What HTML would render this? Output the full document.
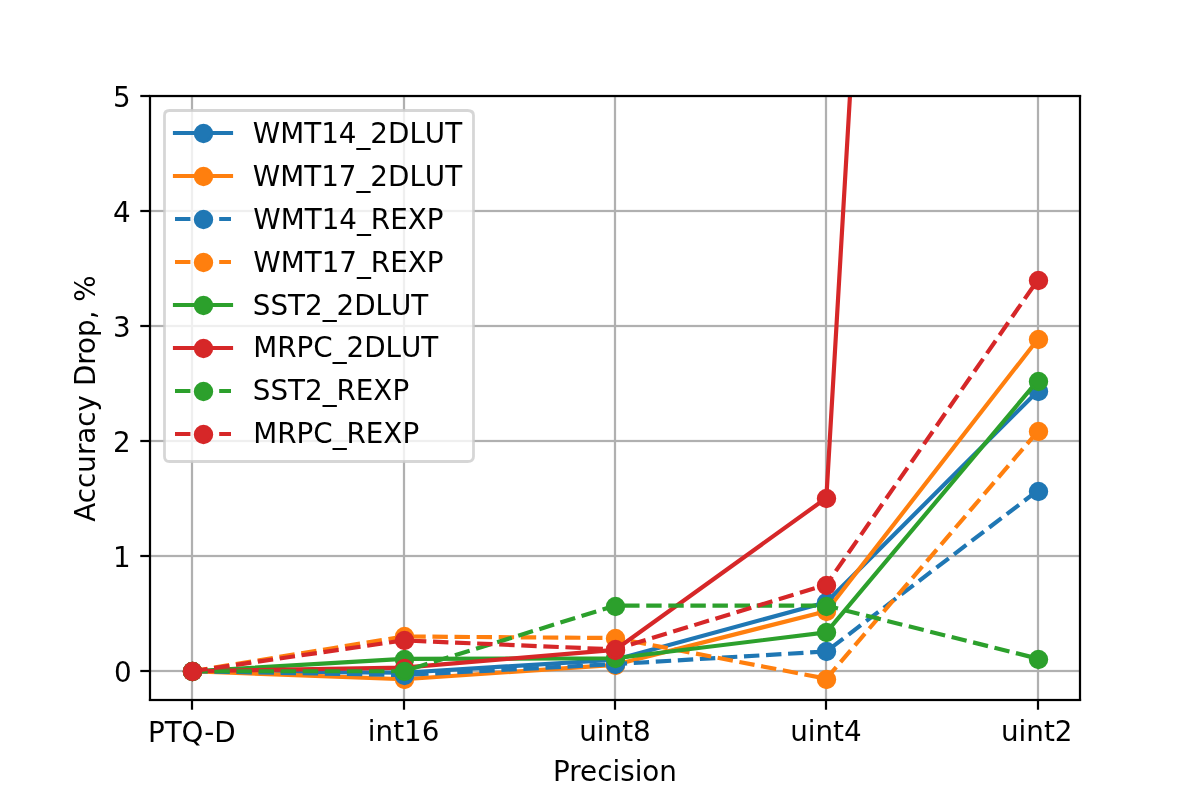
<!DOCTYPE html>
<html><head><meta charset="utf-8"><title>Accuracy Drop vs Precision</title>
<style>html,body{margin:0;padding:0;background:#fff;width:1200px;height:800px;overflow:hidden}svg{display:block}text{fill:#000}</style>
</head><body>
<svg width="1200" height="800" viewBox="0 0 1200 800" font-family="'DejaVu Sans', sans-serif">
<defs><clipPath id="c0"><rect x="150" y="96" width="930" height="604"/></clipPath></defs>
<path d="M0 800L1200 800L1200 0L0 0Z" fill="#ffffff"/>
<path d="M150 700L1080 700L1080 96L150 96Z" fill="#ffffff"/>
<path d="M192 700L192 96" fill="none" stroke="#b0b0b0" stroke-width="2.22" stroke-linecap="square" stroke-linejoin="round" clip-path="url(#c0)"/>
<path d="M192 700L192 709.72" fill="none" stroke="#000000" stroke-width="2.22" stroke-linejoin="round"/>
<text x="191.77" y="741.94" font-size="27.78" text-anchor="middle">PTQ-D</text>
<path d="M404 700L404 96" fill="none" stroke="#b0b0b0" stroke-width="2.22" stroke-linecap="square" stroke-linejoin="round" clip-path="url(#c0)"/>
<path d="M404 700L404 709.72" fill="none" stroke="#000000" stroke-width="2.22" stroke-linejoin="round"/>
<text x="403.64" y="740.94" font-size="27.78" text-anchor="middle">int16</text>
<path d="M615 700L615 96" fill="none" stroke="#b0b0b0" stroke-width="2.22" stroke-linecap="square" stroke-linejoin="round" clip-path="url(#c0)"/>
<path d="M615 700L615 709.72" fill="none" stroke="#000000" stroke-width="2.22" stroke-linejoin="round"/>
<text x="615" y="740.94" font-size="27.78" text-anchor="middle">uint8</text>
<path d="M826 700L826 96" fill="none" stroke="#b0b0b0" stroke-width="2.22" stroke-linecap="square" stroke-linejoin="round" clip-path="url(#c0)"/>
<path d="M826 700L826 709.72" fill="none" stroke="#000000" stroke-width="2.22" stroke-linejoin="round"/>
<text x="825.86" y="740.94" font-size="27.78" text-anchor="middle">uint4</text>
<path d="M1038 700L1038 96" fill="none" stroke="#b0b0b0" stroke-width="2.22" stroke-linecap="square" stroke-linejoin="round" clip-path="url(#c0)"/>
<path d="M1038 700L1038 709.72" fill="none" stroke="#000000" stroke-width="2.22" stroke-linejoin="round"/>
<text x="1036.73" y="740.94" font-size="27.78" text-anchor="middle">uint2</text>
<text x="615" y="780.56" font-size="27.78" text-anchor="middle">Precision</text>
<rect x="148.89" y="669.89" width="932.22" height="2.22" fill="#b0b0b0" clip-path="url(#c0)"/>
<path d="M150 671L140.28 671" fill="none" stroke="#000000" stroke-width="2.22" stroke-linejoin="round"/>
<text x="131.56" y="681.74" font-size="27.78" text-anchor="end">0</text>
<rect x="148.89" y="554.89" width="932.22" height="2.22" fill="#b0b0b0" clip-path="url(#c0)"/>
<path d="M150 556L140.28 556" fill="none" stroke="#000000" stroke-width="2.22" stroke-linejoin="round"/>
<text x="130.56" y="566.69" font-size="27.78" text-anchor="end">1</text>
<rect x="148.89" y="439.89" width="932.22" height="2.22" fill="#b0b0b0" clip-path="url(#c0)"/>
<path d="M150 441L140.28 441" fill="none" stroke="#000000" stroke-width="2.22" stroke-linejoin="round"/>
<text x="130.56" y="451.64" font-size="27.78" text-anchor="end">2</text>
<rect x="148.89" y="324.89" width="932.22" height="2.22" fill="#b0b0b0" clip-path="url(#c0)"/>
<path d="M150 326L140.28 326" fill="none" stroke="#000000" stroke-width="2.22" stroke-linejoin="round"/>
<text x="130.56" y="336.6" font-size="27.78" text-anchor="end">3</text>
<rect x="148.89" y="209.89" width="932.22" height="2.22" fill="#b0b0b0" clip-path="url(#c0)"/>
<path d="M150 211L140.28 211" fill="none" stroke="#000000" stroke-width="2.22" stroke-linejoin="round"/>
<text x="130.56" y="221.55" font-size="27.78" text-anchor="end">4</text>
<rect x="148.89" y="94.89" width="932.22" height="2.22" fill="#b0b0b0" clip-path="url(#c0)"/>
<path d="M150 96L140.28 96" fill="none" stroke="#000000" stroke-width="2.22" stroke-linejoin="round"/>
<text x="130.56" y="106.5" font-size="27.78" text-anchor="end">5</text>
<text x="94.69" y="398.5" font-size="27.78" text-anchor="middle" transform="rotate(-90 94.69 398.5)">Accuracy Drop, %</text>
<path d="M192.27 671.24L403.64 672.73L615 659.73L826.36 602.21L1037.73 391.21" fill="none" stroke="#1f77b4" stroke-width="4.17" stroke-linecap="square" stroke-linejoin="round" clip-path="url(#c0)"/>
<circle cx="192.5" cy="671.5" r="8.33" fill="#1f77b4" stroke="#1f77b4" stroke-width="2.78" clip-path="url(#c0)"/>
<circle cx="404.5" cy="673.5" r="8.33" fill="#1f77b4" stroke="#1f77b4" stroke-width="2.78" clip-path="url(#c0)"/>
<circle cx="615.5" cy="660.5" r="8.33" fill="#1f77b4" stroke="#1f77b4" stroke-width="2.78" clip-path="url(#c0)"/>
<circle cx="826.5" cy="602.5" r="8.33" fill="#1f77b4" stroke="#1f77b4" stroke-width="2.78" clip-path="url(#c0)"/>
<circle cx="1038.5" cy="391.5" r="8.33" fill="#1f77b4" stroke="#1f77b4" stroke-width="2.78" clip-path="url(#c0)"/>
<path d="M192.27 671.24L403.64 679.29L615 664.8L826.36 611.18L1037.73 339.33" fill="none" stroke="#ff7f0e" stroke-width="4.17" stroke-linecap="square" stroke-linejoin="round" clip-path="url(#c0)"/>
<circle cx="192.5" cy="671.5" r="8.33" fill="#ff7f0e" stroke="#ff7f0e" stroke-width="2.78" clip-path="url(#c0)"/>
<circle cx="404.5" cy="679.5" r="8.33" fill="#ff7f0e" stroke="#ff7f0e" stroke-width="2.78" clip-path="url(#c0)"/>
<circle cx="615.5" cy="665.5" r="8.33" fill="#ff7f0e" stroke="#ff7f0e" stroke-width="2.78" clip-path="url(#c0)"/>
<circle cx="826.5" cy="611.5" r="8.33" fill="#ff7f0e" stroke="#ff7f0e" stroke-width="2.78" clip-path="url(#c0)"/>
<circle cx="1038.5" cy="339.5" r="8.33" fill="#ff7f0e" stroke="#ff7f0e" stroke-width="2.78" clip-path="url(#c0)"/>
<path d="M192.27 671.24L403.64 675.03L615 664.11L826.36 651.45L1037.73 490.61" fill="none" stroke="#1f77b4" stroke-width="4.17" stroke-dasharray="15.42,6.67" stroke-linejoin="round" clip-path="url(#c0)"/>
<circle cx="192.5" cy="671.5" r="8.33" fill="#1f77b4" stroke="#1f77b4" stroke-width="2.78" clip-path="url(#c0)"/>
<circle cx="404.5" cy="675.5" r="8.33" fill="#1f77b4" stroke="#1f77b4" stroke-width="2.78" clip-path="url(#c0)"/>
<circle cx="615.5" cy="664.5" r="8.33" fill="#1f77b4" stroke="#1f77b4" stroke-width="2.78" clip-path="url(#c0)"/>
<circle cx="826.5" cy="651.5" r="8.33" fill="#1f77b4" stroke="#1f77b4" stroke-width="2.78" clip-path="url(#c0)"/>
<circle cx="1038.5" cy="491.5" r="8.33" fill="#1f77b4" stroke="#1f77b4" stroke-width="2.78" clip-path="url(#c0)"/>
<path d="M192.27 671.24L403.64 636.49L615 637.99L826.36 678.72L1037.73 431.48" fill="none" stroke="#ff7f0e" stroke-width="4.17" stroke-dasharray="15.42,6.67" stroke-linejoin="round" clip-path="url(#c0)"/>
<circle cx="192.5" cy="671.5" r="8.33" fill="#ff7f0e" stroke="#ff7f0e" stroke-width="2.78" clip-path="url(#c0)"/>
<circle cx="404.5" cy="636.5" r="8.33" fill="#ff7f0e" stroke="#ff7f0e" stroke-width="2.78" clip-path="url(#c0)"/>
<circle cx="615.5" cy="638.5" r="8.33" fill="#ff7f0e" stroke="#ff7f0e" stroke-width="2.78" clip-path="url(#c0)"/>
<circle cx="826.5" cy="679.5" r="8.33" fill="#ff7f0e" stroke="#ff7f0e" stroke-width="2.78" clip-path="url(#c0)"/>
<circle cx="1038.5" cy="431.5" r="8.33" fill="#ff7f0e" stroke="#ff7f0e" stroke-width="2.78" clip-path="url(#c0)"/>
<path d="M192.27 671.24L403.64 658.93L615 658.24L826.36 632.35L1037.73 380.74" fill="none" stroke="#2ca02c" stroke-width="4.17" stroke-linecap="square" stroke-linejoin="round" clip-path="url(#c0)"/>
<circle cx="192.5" cy="671.5" r="8.33" fill="#2ca02c" stroke="#2ca02c" stroke-width="2.78" clip-path="url(#c0)"/>
<circle cx="404.5" cy="659.5" r="8.33" fill="#2ca02c" stroke="#2ca02c" stroke-width="2.78" clip-path="url(#c0)"/>
<circle cx="615.5" cy="658.5" r="8.33" fill="#2ca02c" stroke="#2ca02c" stroke-width="2.78" clip-path="url(#c0)"/>
<circle cx="826.5" cy="632.5" r="8.33" fill="#2ca02c" stroke="#2ca02c" stroke-width="2.78" clip-path="url(#c0)"/>
<circle cx="1038.5" cy="381.5" r="8.33" fill="#2ca02c" stroke="#2ca02c" stroke-width="2.78" clip-path="url(#c0)"/>
<path d="M192.27 671.24L403.64 667.56L615 649.95L826.36 497.98L1037.73 -3102.32" fill="none" stroke="#d62728" stroke-width="4.17" stroke-linecap="square" stroke-linejoin="round" clip-path="url(#c0)"/>
<circle cx="192.5" cy="671.5" r="8.33" fill="#d62728" stroke="#d62728" stroke-width="2.78" clip-path="url(#c0)"/>
<circle cx="404.5" cy="668.5" r="8.33" fill="#d62728" stroke="#d62728" stroke-width="2.78" clip-path="url(#c0)"/>
<circle cx="615.5" cy="650.5" r="8.33" fill="#d62728" stroke="#d62728" stroke-width="2.78" clip-path="url(#c0)"/>
<circle cx="826.5" cy="498.5" r="8.33" fill="#d62728" stroke="#d62728" stroke-width="2.78" clip-path="url(#c0)"/>
<circle cx="1038.5" cy="-3101.5" r="8.33" fill="#d62728" stroke="#d62728" stroke-width="2.78" clip-path="url(#c0)"/>
<path d="M192.27 671.24L403.64 671.24L615 605.66L826.36 605.66L1037.73 658.58" fill="none" stroke="#2ca02c" stroke-width="4.17" stroke-dasharray="15.42,6.67" stroke-linejoin="round" clip-path="url(#c0)"/>
<circle cx="192.5" cy="671.5" r="8.33" fill="#2ca02c" stroke="#2ca02c" stroke-width="2.78" clip-path="url(#c0)"/>
<circle cx="404.5" cy="671.5" r="8.33" fill="#2ca02c" stroke="#2ca02c" stroke-width="2.78" clip-path="url(#c0)"/>
<circle cx="615.5" cy="606.5" r="8.33" fill="#2ca02c" stroke="#2ca02c" stroke-width="2.78" clip-path="url(#c0)"/>
<circle cx="826.5" cy="606.5" r="8.33" fill="#2ca02c" stroke="#2ca02c" stroke-width="2.78" clip-path="url(#c0)"/>
<circle cx="1038.5" cy="659.5" r="8.33" fill="#2ca02c" stroke="#2ca02c" stroke-width="2.78" clip-path="url(#c0)"/>
<path d="M192.27 671.24L403.64 640.41L615 649.38L826.36 584.72L1037.73 280.08" fill="none" stroke="#d62728" stroke-width="4.17" stroke-dasharray="15.42,6.67" stroke-linejoin="round" clip-path="url(#c0)"/>
<circle cx="192.5" cy="671.5" r="8.33" fill="#d62728" stroke="#d62728" stroke-width="2.78" clip-path="url(#c0)"/>
<circle cx="404.5" cy="640.5" r="8.33" fill="#d62728" stroke="#d62728" stroke-width="2.78" clip-path="url(#c0)"/>
<circle cx="615.5" cy="649.5" r="8.33" fill="#d62728" stroke="#d62728" stroke-width="2.78" clip-path="url(#c0)"/>
<circle cx="826.5" cy="585.5" r="8.33" fill="#d62728" stroke="#d62728" stroke-width="2.78" clip-path="url(#c0)"/>
<circle cx="1038.5" cy="280.5" r="8.33" fill="#d62728" stroke="#d62728" stroke-width="2.78" clip-path="url(#c0)"/>
<path d="M150 700L150 96" fill="none" stroke="#000000" stroke-width="2.22" stroke-linecap="square"/>
<path d="M1080 700L1080 96" fill="none" stroke="#000000" stroke-width="2.22" stroke-linecap="square"/>
<rect x="148.89" y="698.89" width="932.22" height="2.22" fill="#000000"/>
<rect x="148.89" y="94.89" width="932.22" height="2.22" fill="#000000"/>
<path d="M169.5 461.5L467.5 461.5Q473.5 461.5 473.5 456.5L473.5 115.5Q473.5 110.5 467.5 110.5L169.5 110.5Q164.5 110.5 164.5 115.5L164.5 456.5Q164.5 461.5 169.5 461.5Z" fill="#ffffff" fill-opacity="0.8" stroke="#cccccc" stroke-width="2.78" stroke-opacity="0.8"/>
<path d="M175 133L203 133L231 133" fill="none" stroke="#1f77b4" stroke-width="4.17" stroke-linecap="square" stroke-linejoin="round"/>
<circle cx="203.5" cy="133.5" r="8.33" fill="#1f77b4" stroke="#1f77b4" stroke-width="2.78"/>
<text x="252.78" y="142.5" font-size="27.78" text-anchor="start" style="font-kerning:none">WMT14_2DLUT</text>
<path d="M175 176L203 176L231 176" fill="none" stroke="#ff7f0e" stroke-width="4.17" stroke-linecap="square" stroke-linejoin="round"/>
<circle cx="203.5" cy="176.5" r="8.33" fill="#ff7f0e" stroke="#ff7f0e" stroke-width="2.78"/>
<text x="252.78" y="185.89" font-size="27.78" text-anchor="start" style="font-kerning:none">WMT17_2DLUT</text>
<path d="M175 219L203 219L231 219" fill="none" stroke="#1f77b4" stroke-width="4.17" stroke-dasharray="15.42,6.67" stroke-linejoin="round"/>
<circle cx="203.5" cy="219.5" r="8.33" fill="#1f77b4" stroke="#1f77b4" stroke-width="2.78"/>
<text x="253.28" y="228.78" font-size="27.78" text-anchor="start">WMT14_REXP</text>
<path d="M175 262L203 262L231 262" fill="none" stroke="#ff7f0e" stroke-width="4.17" stroke-dasharray="15.42,6.67" stroke-linejoin="round"/>
<circle cx="203.5" cy="262.5" r="8.33" fill="#ff7f0e" stroke="#ff7f0e" stroke-width="2.78"/>
<text x="253.28" y="271.67" font-size="27.78" text-anchor="start">WMT17_REXP</text>
<path d="M175 305L203 305L231 305" fill="none" stroke="#2ca02c" stroke-width="4.17" stroke-linecap="square" stroke-linejoin="round"/>
<circle cx="203.5" cy="305.5" r="8.33" fill="#2ca02c" stroke="#2ca02c" stroke-width="2.78"/>
<text x="252.78" y="314.56" font-size="27.78" text-anchor="start" style="font-kerning:none">SST2_2DLUT</text>
<path d="M175 348L203 348L231 348" fill="none" stroke="#d62728" stroke-width="4.17" stroke-linecap="square" stroke-linejoin="round"/>
<circle cx="203.5" cy="348.5" r="8.33" fill="#d62728" stroke="#d62728" stroke-width="2.78"/>
<text x="253.28" y="356.94" font-size="27.78" text-anchor="start" style="font-kerning:none">MRPC_2DLUT</text>
<path d="M175 391L203 391L231 391" fill="none" stroke="#2ca02c" stroke-width="4.17" stroke-dasharray="15.42,6.67" stroke-linejoin="round"/>
<circle cx="203.5" cy="391.5" r="8.33" fill="#2ca02c" stroke="#2ca02c" stroke-width="2.78"/>
<text x="252.78" y="399.83" font-size="27.78" text-anchor="start">SST2_REXP</text>
<path d="M175 434L203 434L231 434" fill="none" stroke="#d62728" stroke-width="4.17" stroke-dasharray="15.42,6.67" stroke-linejoin="round"/>
<circle cx="203.5" cy="434.5" r="8.33" fill="#d62728" stroke="#d62728" stroke-width="2.78"/>
<text x="253.28" y="442.72" font-size="27.78" text-anchor="start">MRPC_REXP</text>
</svg>
</body></html>
